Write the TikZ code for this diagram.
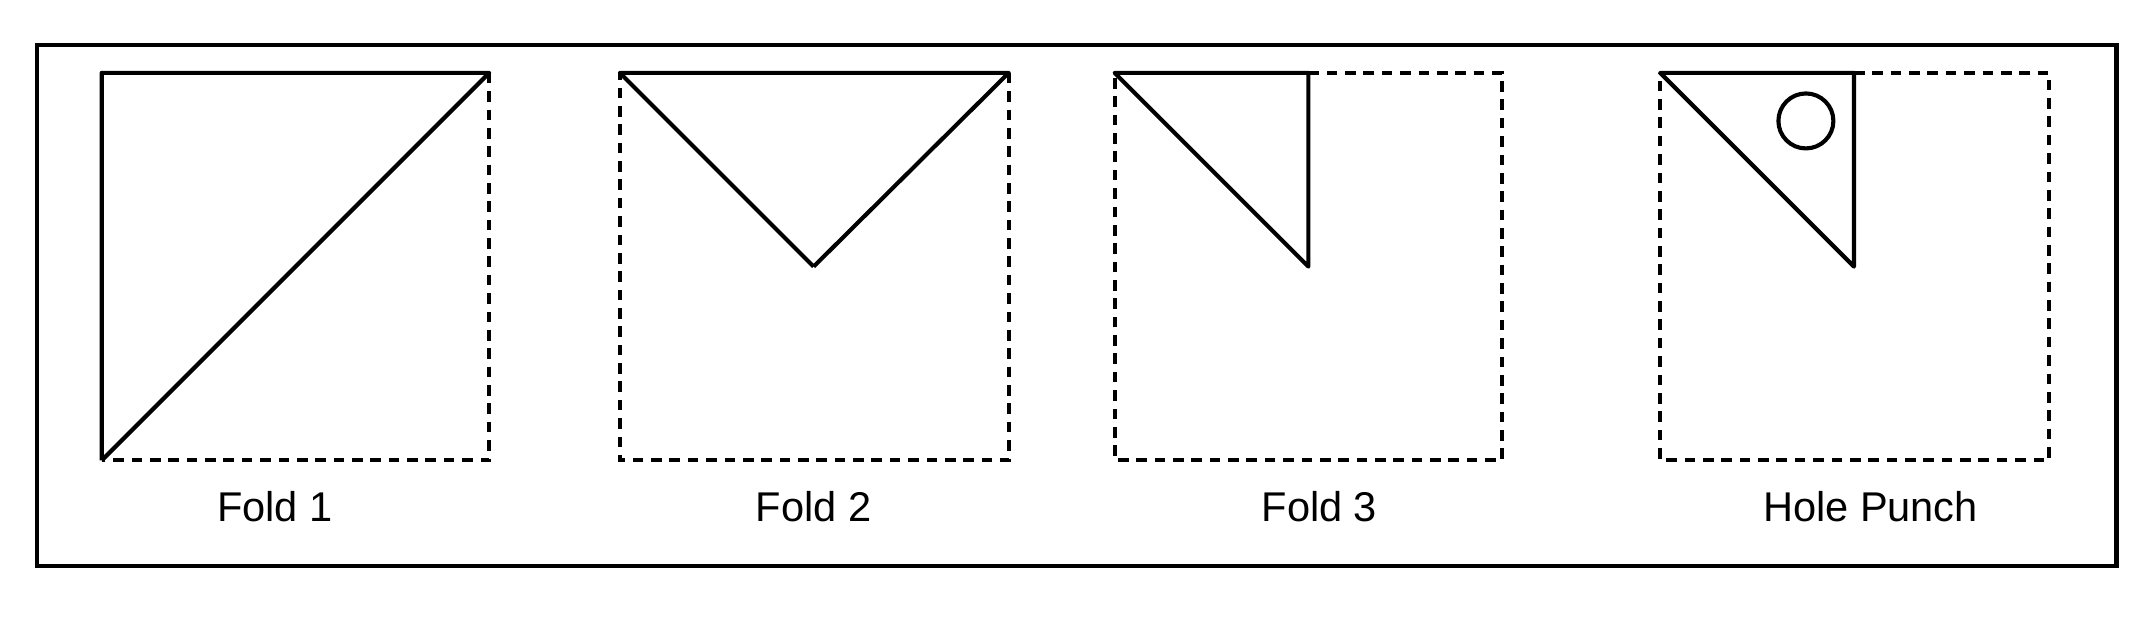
\documentclass[tikz,border=0pt]{standalone}
\usepackage{fontspec}
\setmainfont{Liberation Sans}
\begin{document}
\begin{tikzpicture}[x=0.01cm,y=-0.01cm,line width=0.85pt,
  sol/.style={line join=round},
  dsh/.style={dash pattern=on 2.2pt off 1.6pt},
  lbl/.style={font=\fontsize{8.6}{10}\selectfont}]
\useasboundingbox (0,0) rectangle (1568,449);
\draw (27,33) rectangle (1540,412);
% Fold 1
\coordinate (a1) at (74,53); \coordinate (b1) at (356,53); \coordinate (c1) at (356,335); \coordinate (d1) at (74,335);
\draw[dsh] (b1) -- (c1) -- (d1);
\draw[sol] (d1) -- (a1) -- (b1) -- (d1);
\node[lbl] (l1) at (200,369) {Fold 1};
% Fold 2
\coordinate (a2) at (451,53); \coordinate (b2) at (734,53); \coordinate (c2) at (734,335); \coordinate (d2) at (451,335); \coordinate (m2) at (592,194);
\draw[dsh] (b2) -- (c2) -- (d2) -- (a2);
\draw[sol] (m2) -- (a2) -- (b2) -- (m2);
\node[lbl] (l2) at (592,369) {Fold 2};
% Fold 3
\coordinate (a3) at (811,53); \coordinate (b3) at (1093,53); \coordinate (c3) at (1093,335); \coordinate (d3) at (811,335);
\coordinate (t3) at (952,53); \coordinate (m3) at (952,194);
\draw[dsh] (t3) -- (b3) -- (c3) -- (d3) -- (a3);
\draw[sol] (a3) -- (t3) -- (m3) -- cycle;
\node[lbl] (l3) at (960,369) {Fold 3};
% Hole punch
\coordinate (a4) at (1208,53); \coordinate (b4) at (1491,53); \coordinate (c4) at (1491,335); \coordinate (d4) at (1208,335);
\coordinate (t4) at (1349,53); \coordinate (m4) at (1349,194);
\draw[dsh] (t4) -- (b4) -- (c4) -- (d4) -- (a4);
\draw[sol] (a4) -- (t4) -- (m4) -- cycle;
\draw (1314,88) circle (20);
\node[lbl] (l4) at (1361,369) {Hole Punch};
\end{tikzpicture}
\end{document}
